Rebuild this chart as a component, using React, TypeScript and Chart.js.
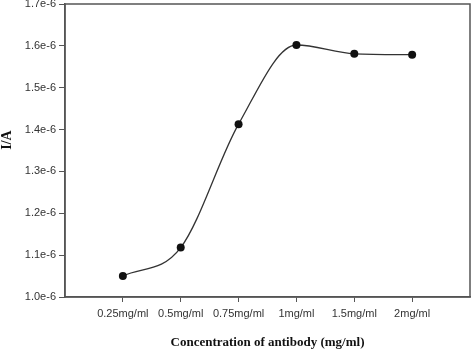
import React, { useEffect, useRef } from "react";
import { Chart, registerables } from "chart.js";

Chart.register(...registerables);

const categories = ["0.25mg/ml", "0.5mg/ml", "0.75mg/ml", "1mg/ml", "1.5mg/ml", "2mg/ml"];
const currents = [1.05e-6, 1.118e-6, 1.413e-6, 1.602e-6, 1.581e-6, 1.579e-6];
const yTicks = [1.0e-6, 1.1e-6, 1.2e-6, 1.3e-6, 1.4e-6, 1.5e-6, 1.6e-6, 1.7e-6];
const yTickLabels = ["1.0e-6", "1.1e-6", "1.2e-6", "1.3e-6", "1.4e-6", "1.5e-6", "1.6e-6", "1.7e-6"];
const xTitle = "Concentration of antibody (mg/ml)";
const yTitle = "I/A";

const titleFamily = "'Liberation Serif', 'Times New Roman', serif";

const framePlugin = {
  id: "frame",
  afterDraw(chart: any) {
    const { ctx, chartArea } = chart;
    ctx.save();
    ctx.strokeStyle = "#555";
    ctx.lineWidth = 1.5;
    ctx.strokeRect(chartArea.left, chartArea.top, chartArea.right - chartArea.left, chartArea.bottom - chartArea.top);
    // y-axis title
    ctx.translate(7, 140);
    ctx.rotate(-Math.PI / 2);
    ctx.fillStyle = "#111";
    ctx.font = `bold 14px ${titleFamily}`;
    ctx.textAlign = "center";
    ctx.textBaseline = "middle";
    ctx.fillText(yTitle, 0, 0);
    ctx.restore();
  },
};

export default function App() {
  const ref = useRef<HTMLCanvasElement | null>(null);
  useEffect(() => {
    if (!ref.current) return;
    const tickFont = { family: "'Liberation Sans', Arial, sans-serif", size: 11 };
    const titleFont = { family: titleFamily, size: 13, weight: "bold" as const };
    const chart = new Chart(ref.current, {
      type: "line",
      data: {
        datasets: [
          {
            data: currents.map((v, i) => ({ x: i + 1, y: v })),
            borderColor: "#333",
            borderWidth: 1.3,
            pointRadius: 4,
            pointBackgroundColor: "#111",
            pointBorderColor: "#111",
            pointBorderWidth: 0,
            cubicInterpolationMode: "monotone",
            fill: false,
          },
        ],
      },
      options: {
        animation: false,
        responsive: false,
        devicePixelRatio: 1,
        layout: { padding: { top: 4, right: 2, left: 0, bottom: 0 } },
        plugins: { legend: { display: false }, tooltip: { enabled: false } },
        scales: {
          x: {
            type: "linear",
            min: 0,
            max: categories.length + 1,
            afterBuildTicks: (s: any) => {
              s.ticks = categories.map((_, i) => ({ value: i + 1 }));
            },
            afterFit: (s: any) => {
              s.height = 53;
              s.paddingLeft = 0;
              s.paddingRight = 0;
            },
            grid: { drawOnChartArea: false, tickLength: 5, color: "#555", lineWidth: 1 },
            border: { color: "#555", width: 1.5 },
            ticks: {
              autoSkip: false,
              maxRotation: 0,
              padding: 5,
              font: tickFont,
              color: "#333",
              callback: (v: any) => categories[Number(v) - 1] ?? "",
            },
            title: { display: true, text: xTitle, font: titleFont, color: "#111", padding: { top: 0, bottom: 0 } },
          },
          y: {
            type: "linear",
            min: yTicks[0],
            max: yTicks[yTicks.length - 1],
            afterBuildTicks: (s: any) => {
              s.ticks = yTicks.map((v) => ({ value: v }));
            },
            afterFit: (s: any) => {
              s.width = 65;
              s.paddingTop = 0;
              s.paddingBottom = 0;
            },
            grid: { drawOnChartArea: false, tickLength: 6, color: "#555", lineWidth: 1 },
            border: { color: "#555", width: 1.5 },
            ticks: {
              padding: 3,
              font: tickFont,
              color: "#333",
              callback: (_v: any, i: number) => yTickLabels[i],
            },
            title: { display: false },
          },
        },
      },
      plugins: [framePlugin],
    } as any);
    return () => chart.destroy();
  }, []);
  return (
    <div style={{ position: "absolute", left: 0, top: 0, width: 474, height: 350, background: "#fff" }}>
      <canvas ref={ref} width={474} height={350} style={{ display: "block" }} />
    </div>
  );
}
